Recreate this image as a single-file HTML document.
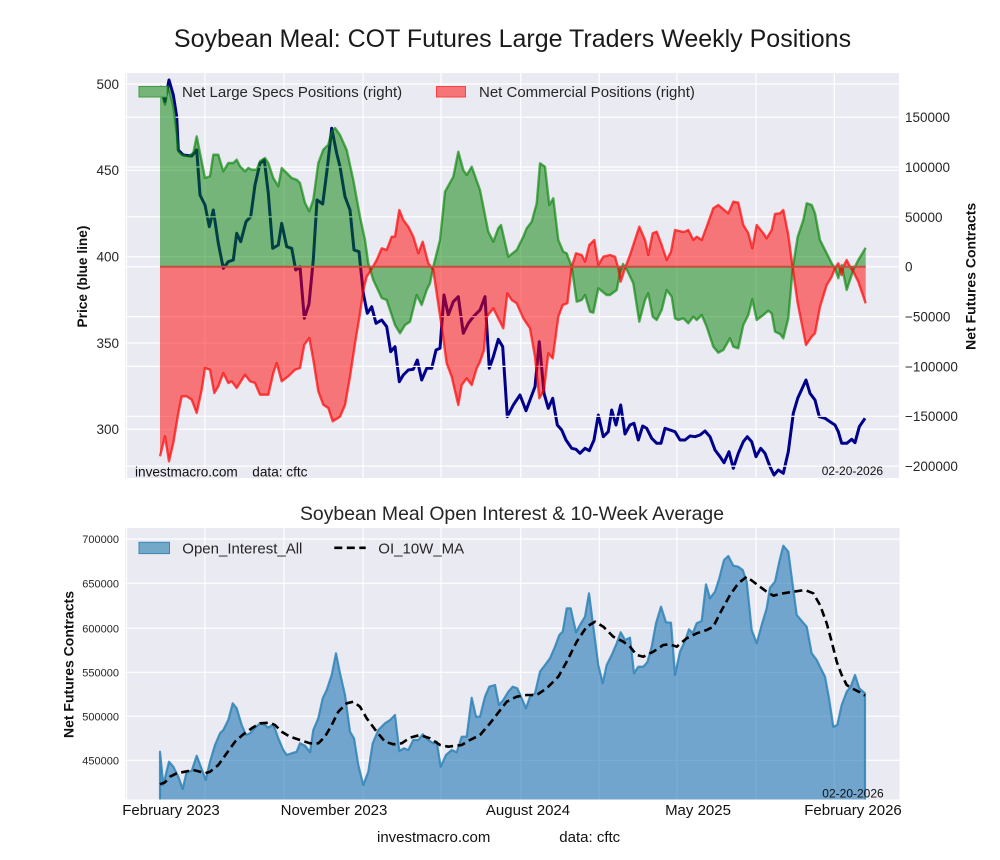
<!DOCTYPE html>
<html><head><meta charset="utf-8"><style>
html,body{margin:0;padding:0;background:#fff;}
svg{display:block;font-family:"Liberation Sans",Arial,sans-serif;}
</style></head><body>
<svg width="1000" height="860" viewBox="0 0 1000 860" xmlns="http://www.w3.org/2000/svg">
<defs>
<clipPath id="ct"><rect x="125" y="73" width="774" height="405"/></clipPath>
<clipPath id="cb"><rect x="125" y="528" width="774.5" height="271.5"/></clipPath>
</defs>
<rect width="1000" height="860" fill="#fff"/>
<text x="512.5" y="47" font-size="25" text-anchor="middle" fill="#1a1a1a">Soybean Meal: COT Futures Large Traders Weekly Positions</text>

<!-- TOP PANEL -->
<rect x="125" y="73" width="774" height="405" fill="#eaeaf2"/>
<g stroke="#fff" stroke-width="1.2">
<path d="M126.5,73V478M205,73V478M284,73V478M363,73V478M441,73V478M520.7,73V478M599.3,73V478M677,73V478M756,73V478M834.3,73V478"/>
<path d="M125,84H899M125,170.3H899M125,256.7H899M125,343H899M125,429.3H899"/>
</g>
<g clip-path="url(#ct)">
<polyline fill="none" stroke="#00008b" stroke-width="3" stroke-linejoin="round" points="160,86 165,101.7 169,80 173.3,95 176.7,116.7 178.3,150 183.3,155 191.7,156 196.7,150 200,195 205,205 209.3,226.7 213.3,210 218.3,243.3 223.3,268.3 228.3,261.7 233.3,260 236.7,233.3 240.7,241.7 246,221.7 250.7,216.7 255,185 260,163.3 264.3,160 268.3,193.3 272.7,248.3 278.3,245 281.7,223.3 286.7,246.7 291.7,248.3 295.7,270 300,266.7 304.3,318.3 309,304 313.3,259.7 317,200 322.7,204 327.3,168 331.7,128.3 336.7,153.3 340,166.7 345,196.7 350,210 354,250 359,251.7 363.3,293.3 367.3,313.3 371.7,306.7 376,323.3 381.7,320 386.7,326.7 390.7,351.7 395,346.7 399.3,381.7 403.3,375 408.3,370 413.3,369.3 417.3,360 421.7,380 426.7,368.3 431.7,368.3 436,350 440,348.3 444,295 448.3,315 453.3,301.7 458.3,296.7 463.3,333.3 468.3,323.3 473.3,316.7 480,310 485,296.7 489.3,368.3 493.3,356.7 498.3,339.3 502.7,346.7 507.3,416.7 513.3,405 520,395 526,410.7 530,400 535,386.7 539.3,341.7 544,393.3 548.3,408.3 552.7,398.3 557.3,425 561.7,430 566,440 571.7,448.3 576,449.3 580,453.3 585,448.3 589.3,450.7 594,440 598.3,415 603.3,436.7 608.3,431.7 611.7,410 616,425 620.7,405 625,434 630,425 634,423.3 638.3,440 642.7,426 646.7,428.3 651.7,438.3 656.7,443.3 661,443.3 665,428.3 670,430 675,431.7 680,440 685,440 690,436 695,436.7 700,435 705,431 710,436.7 715,450 720,456.7 724,462.7 729,451.7 733.3,468.3 738.3,453.3 743.3,441.7 747.3,436.7 751.7,441.7 756,456.7 760.7,448.3 765,453.3 770,466.7 774,475 778.3,470 783.3,473.3 788.3,451.7 793.3,413.3 797.7,398.3 806,380 810,393.3 815,400 819.3,416.7 825,418.3 830,421.7 835,425 838.3,431.7 841.7,443.3 846.7,443.3 851.7,439.3 855,442.7 859.3,426.7 865,418.3"/>
</g>
<g stroke="#fff" stroke-width="1.2">
<path d="M125,117.2H899M125,167H899M125,216.9H899M125,266.7H899M125,316.6H899M125,366.4H899M125,416.3H899M125,466.1H899"/>
</g>
<g clip-path="url(#ct)">
<polygon fill="#008000" fill-opacity="0.5" points="160,266.7 160,86.3 165,104.7 168.3,86.3 173.3,106.3 176.7,133 178.3,151.3 181.7,154.7 188.3,156.3 193.3,153 196.7,136.3 200,153 205,178 210,176.3 213.3,154.7 218.3,154.7 223.3,171.3 228.3,163 233.3,163 236.7,159.7 240,166.3 245,171.3 248.3,168 251.7,169.7 256.7,169.7 260,161.3 265,158 268.3,163 273.3,178 278.3,186.3 281.7,168 286.7,173 291.7,178 296.7,179.7 300,183 305,203 309.3,211.3 313.3,199.7 318.3,163 323.3,149.7 328.3,144.7 331.7,131.3 335,128 340,135 346.7,150 353.3,180 360,216.7 365,240 368.3,263.3 373.3,280 381.7,298 386.7,300 390,310 395,325 400,333.3 405,325 410,321.7 416.7,295 421.7,305 426.7,290 430,283.3 433.3,266.7 440,240 445,191.7 453.3,176.7 458.3,151.7 463.3,170 466.7,175 471.7,166.7 480,190 488.3,231.7 493.3,241.7 498.3,228.3 501,225 508.3,256.7 516.7,250 523.3,236.7 526.7,228.3 531.7,221.7 536.7,203.3 540,163.3 545,166.7 549.3,205 553.3,198.3 558.3,240 563.3,251.7 566.7,253.3 571.7,266.7 576.7,301.7 581.7,300 585,295 590,311.7 593.3,312.7 598.3,288.3 606.7,295 610,295 616.7,290 620,273.3 623,264 627,270 633.3,283.3 639.3,321.7 645,300 648.3,293.3 652.7,316.7 656.7,320 661.7,310 666.7,290 671.7,296.7 675,318.3 678.3,320 683.3,318.3 688.3,323.3 693.3,316.7 696.7,320 701.7,315 706.7,326.7 713.3,346.7 718.3,352.7 723.3,350 730,338.3 733.3,346.7 738.3,348.3 743.3,325 748.3,315 752.3,299.3 756.7,320 763.3,315 768.3,310.7 771.7,313.3 775,331.7 780,334 783.3,338.3 788.3,318.3 792.7,268.3 797.7,236.7 803.3,220 806.7,203.3 811.7,205 815,213.3 820,240 826.7,253.3 831.7,263.3 835,268.3 838.3,278.3 841.7,265 843.3,273.3 846.7,290 850,280 853.3,270 858.3,260 865.7,247.7 865.7,266.7"/>
<polygon fill="#ff0000" fill-opacity="0.5" points="160,266.7 160,456.3 165,436.3 169,461.3 173.3,443 178.3,413 181.7,396.3 186.7,396.3 191.7,399.7 196.7,413 201.7,389.7 205,368 210,369.7 214.3,393 218.3,386.3 223.3,373 228.3,383 231.7,381.3 236.7,388 245,374.7 250,381.3 255,383 260,394.7 268.3,394.7 273.3,373 276.7,363 281.7,381.3 288.3,376.3 295,369.7 300,368 304.3,344.7 309.3,338 313.3,359.7 318.3,391.3 323.3,404.7 328.3,408 332.7,421.3 340,416.7 345,405 350,376.7 355,343.3 360,313.3 363.3,290 366.7,276.7 370,271.7 376.7,260 381.7,248.3 386.7,250 391.7,236.7 395,236.7 399.3,210 403.3,220 408.3,226.7 413.3,236.7 418.3,253.3 422.7,241.7 428.3,263.3 433.3,270 436.7,293.3 441.7,326.7 446.7,363.3 451.7,376.7 458.3,405 461.7,385 466.7,378.3 471.7,385 476.7,368.3 480,361.7 484,350 486.7,316.7 493.3,308.3 503.3,328.3 507.3,293.3 511.7,300 516.7,303.3 523.3,318.3 530,328.3 535,356.7 539.3,398.3 544,390 548.3,353.3 552.7,358.3 558.3,316.7 562.7,305 567.3,303.3 571.7,266.7 576,253.3 581.7,255 585,261.7 589.3,245 594.3,240 598.3,265 603.3,256.7 610,255 615,256.7 618.3,268.3 620.7,281.7 625,268.3 630,255 639.3,226.7 645,240 648.3,255 652.7,233.3 656.7,231.7 661.7,245 666.7,260 671,251.7 675,230 681.7,231.7 685,231.7 688.3,230 693.3,240 696.7,236.7 701.7,240 706.7,226.7 713.3,208.3 718.3,205 723.3,209.3 728.3,213.3 733.3,201.7 738.3,202.7 743.3,225 748.3,233.3 752.3,248.3 756.7,225 763.3,233.3 766.7,238.3 771.7,230 775,214 780,213.3 783.3,210 788.3,235 792.7,268.3 797.7,303.3 801.7,323.3 806,345 811.7,336.7 815,333.3 820,306.7 826.7,285 831.7,276.7 835,268.3 838.3,263.3 841.7,275 843.3,266.7 846.7,260 850,266.7 853.3,271.7 858.3,281.7 865.7,303.3 865.7,266.7"/>
<polyline fill="none" stroke="#008000" stroke-opacity="0.62" stroke-width="2.4" stroke-linejoin="round" points="160,86.3 165,104.7 168.3,86.3 173.3,106.3 176.7,133 178.3,151.3 181.7,154.7 188.3,156.3 193.3,153 196.7,136.3 200,153 205,178 210,176.3 213.3,154.7 218.3,154.7 223.3,171.3 228.3,163 233.3,163 236.7,159.7 240,166.3 245,171.3 248.3,168 251.7,169.7 256.7,169.7 260,161.3 265,158 268.3,163 273.3,178 278.3,186.3 281.7,168 286.7,173 291.7,178 296.7,179.7 300,183 305,203 309.3,211.3 313.3,199.7 318.3,163 323.3,149.7 328.3,144.7 331.7,131.3 335,128 340,135 346.7,150 353.3,180 360,216.7 365,240 368.3,263.3 373.3,280 381.7,298 386.7,300 390,310 395,325 400,333.3 405,325 410,321.7 416.7,295 421.7,305 426.7,290 430,283.3 433.3,266.7 440,240 445,191.7 453.3,176.7 458.3,151.7 463.3,170 466.7,175 471.7,166.7 480,190 488.3,231.7 493.3,241.7 498.3,228.3 501,225 508.3,256.7 516.7,250 523.3,236.7 526.7,228.3 531.7,221.7 536.7,203.3 540,163.3 545,166.7 549.3,205 553.3,198.3 558.3,240 563.3,251.7 566.7,253.3 571.7,266.7 576.7,301.7 581.7,300 585,295 590,311.7 593.3,312.7 598.3,288.3 606.7,295 610,295 616.7,290 620,273.3 623,264 627,270 633.3,283.3 639.3,321.7 645,300 648.3,293.3 652.7,316.7 656.7,320 661.7,310 666.7,290 671.7,296.7 675,318.3 678.3,320 683.3,318.3 688.3,323.3 693.3,316.7 696.7,320 701.7,315 706.7,326.7 713.3,346.7 718.3,352.7 723.3,350 730,338.3 733.3,346.7 738.3,348.3 743.3,325 748.3,315 752.3,299.3 756.7,320 763.3,315 768.3,310.7 771.7,313.3 775,331.7 780,334 783.3,338.3 788.3,318.3 792.7,268.3 797.7,236.7 803.3,220 806.7,203.3 811.7,205 815,213.3 820,240 826.7,253.3 831.7,263.3 835,268.3 838.3,278.3 841.7,265 843.3,273.3 846.7,290 850,280 853.3,270 858.3,260 865.7,247.7"/>
<polyline fill="none" stroke="#ff0000" stroke-opacity="0.68" stroke-width="2.4" stroke-linejoin="round" points="160,456.3 165,436.3 169,461.3 173.3,443 178.3,413 181.7,396.3 186.7,396.3 191.7,399.7 196.7,413 201.7,389.7 205,368 210,369.7 214.3,393 218.3,386.3 223.3,373 228.3,383 231.7,381.3 236.7,388 245,374.7 250,381.3 255,383 260,394.7 268.3,394.7 273.3,373 276.7,363 281.7,381.3 288.3,376.3 295,369.7 300,368 304.3,344.7 309.3,338 313.3,359.7 318.3,391.3 323.3,404.7 328.3,408 332.7,421.3 340,416.7 345,405 350,376.7 355,343.3 360,313.3 363.3,290 366.7,276.7 370,271.7 376.7,260 381.7,248.3 386.7,250 391.7,236.7 395,236.7 399.3,210 403.3,220 408.3,226.7 413.3,236.7 418.3,253.3 422.7,241.7 428.3,263.3 433.3,270 436.7,293.3 441.7,326.7 446.7,363.3 451.7,376.7 458.3,405 461.7,385 466.7,378.3 471.7,385 476.7,368.3 480,361.7 484,350 486.7,316.7 493.3,308.3 503.3,328.3 507.3,293.3 511.7,300 516.7,303.3 523.3,318.3 530,328.3 535,356.7 539.3,398.3 544,390 548.3,353.3 552.7,358.3 558.3,316.7 562.7,305 567.3,303.3 571.7,266.7 576,253.3 581.7,255 585,261.7 589.3,245 594.3,240 598.3,265 603.3,256.7 610,255 615,256.7 618.3,268.3 620.7,281.7 625,268.3 630,255 639.3,226.7 645,240 648.3,255 652.7,233.3 656.7,231.7 661.7,245 666.7,260 671,251.7 675,230 681.7,231.7 685,231.7 688.3,230 693.3,240 696.7,236.7 701.7,240 706.7,226.7 713.3,208.3 718.3,205 723.3,209.3 728.3,213.3 733.3,201.7 738.3,202.7 743.3,225 748.3,233.3 752.3,248.3 756.7,225 763.3,233.3 766.7,238.3 771.7,230 775,214 780,213.3 783.3,210 788.3,235 792.7,268.3 797.7,303.3 801.7,323.3 806,345 811.7,336.7 815,333.3 820,306.7 826.7,285 831.7,276.7 835,268.3 838.3,263.3 841.7,275 843.3,266.7 846.7,260 850,266.7 853.3,271.7 858.3,281.7 865.7,303.3"/>
<line x1="160" y1="266.7" x2="865.7" y2="266.7" stroke="#c4503e" stroke-width="2"/>
</g>
<!-- top legend -->
<rect x="139" y="86.5" width="28" height="10.5" fill="#75b579" stroke="#3d9a40" stroke-width="1"/>
<text x="182" y="97" font-size="15" fill="#262626">Net Large Specs Positions (right)</text>
<rect x="436.5" y="86.5" width="29" height="10.5" fill="#f57579" stroke="#ff4040" stroke-width="1"/>
<text x="479" y="97" font-size="15" fill="#262626">Net Commercial Positions (right)</text>
<text x="135" y="476.5" font-size="13.6" fill="#111">investmacro.com</text>
<text x="252.3" y="476.5" font-size="13.6" fill="#111">data: cftc</text>
<text x="821.7" y="475" font-size="12" fill="#111">02-20-2026</text>
<!-- top ticks -->
<g font-size="13.5" fill="#262626" text-anchor="end">
<text x="119" y="88.9">500</text>
<text x="119" y="175.2">450</text>
<text x="119" y="261.6">400</text>
<text x="119" y="347.9">350</text>
<text x="119" y="434.2">300</text>
</g>
<g font-size="13.5" fill="#262626">
<text x="905" y="122.1">150000</text>
<text x="905" y="171.9">100000</text>
<text x="905" y="221.8">50000</text>
<text x="905" y="271.6">0</text>
<text x="905" y="321.5">−50000</text>
<text x="905" y="371.3">−100000</text>
<text x="905" y="421.2">−150000</text>
<text x="905" y="471">−200000</text>
</g>
<text transform="translate(87,276.5) rotate(-90)" font-size="13.7" font-weight="bold" text-anchor="middle" fill="#111">Price (blue line)</text>
<text transform="translate(975.5,276.3) rotate(-90)" font-size="14" font-weight="bold" text-anchor="middle" fill="#111">Net Futures Contracts</text>

<!-- BOTTOM PANEL -->
<text x="512" y="520" font-size="19.4" text-anchor="middle" fill="#262626">Soybean Meal Open Interest &amp; 10-Week Average</text>
<rect x="125" y="528" width="774.5" height="271.5" fill="#eaeaf2"/>
<g stroke="#fff" stroke-width="1.2">
<path d="M126.5,528V799.5M205,528V799.5M284,528V799.5M363,528V799.5M441,528V799.5M520.7,528V799.5M599.3,528V799.5M677,528V799.5M756,528V799.5M834.3,528V799.5"/>
<path d="M125,539H899.5M125,583.3H899.5M125,628.3H899.5M125,672.3H899.5M125,716.3H899.5M125,760.3H899.5"/>
</g>
<g clip-path="url(#cb)">
<polygon fill="#1f77b4" fill-opacity="0.6" stroke="#2f82b6" stroke-opacity="0.85" stroke-width="2.2" stroke-linejoin="round" points="160,805 160,751.7 163.3,785 169,761.7 173.3,766.7 178.3,776.7 182.7,789 186.7,771.7 191.7,771 196.7,755.7 201.7,769 205.7,780 210,761.7 215,745 220,733.3 223.3,730 228.3,720 232.7,703.3 236.7,708.3 241.7,725 246,735 250,733.3 255,727.7 260,723.3 265,725 268.3,727.7 273.3,724.3 278.3,738.3 283.3,750 286.7,755 291.7,753.3 296.7,751.7 300,743.3 305,745.7 310,752.3 313.3,730 318.3,718.3 322.7,698.3 326.7,690 331.7,675 336,653.3 340,673.3 345,695 350,731.7 354,738.3 358.3,765 363.3,785 368.3,771.7 372.7,743.3 378.3,730 385,723.3 390,720 395,715 399.3,751 404,748.3 408.3,750 413.3,740 418.3,740 422.7,734.3 428.3,740 433.3,743.3 436.7,741.7 440.7,766.7 446,755 451.7,750 456.7,752.3 461.7,736.7 466.7,736.7 471.7,697.7 476,716.7 480,716.7 485,696.7 489.3,686.7 495,685 499,705 503.3,700 508.3,691.7 512.7,686.7 517.3,688.3 521.7,698.3 526,708.3 530,696.7 535,693.3 540,671.7 545,665 550,658.3 555,646.7 559.3,635 562.7,631.7 566.7,608.3 570.7,608.3 576,632.3 580,625 585,616.7 589,593.3 593.3,626.7 598.3,665 602.7,683.3 606.7,665 611.7,655 616.7,643.3 620.7,632.3 625,640 630,637.7 634,673.3 638.3,666.7 643.3,666.7 647.3,662.3 651.7,646.7 656,623.3 661,606.7 666,622.3 671,622.7 675,675 680,651.7 685,641 689,629.3 692.7,633.3 696.7,623.3 701.7,621 706,584.3 710,598.3 715,591.7 719.3,578.3 724,560 728.3,556 733.3,565.7 738.3,566.7 742.7,570 746.7,581.7 751.7,630 756.7,643.3 761.7,625 766.7,608.3 770,587.7 775,581.7 779.3,561.7 783.3,545.7 788.3,551.7 792.7,585 796.7,615 801.7,621 806.7,626.7 811.7,653.3 816.7,660 820.7,668.3 825,676.7 829,698.3 833.3,726.7 837.3,725 841.7,705 846.7,691.7 850.7,686.7 855,675 859.3,688.3 865,693.3 865,805"/>
<polyline fill="none" stroke="#000" stroke-width="2.6" stroke-dasharray="8,4.5" stroke-linejoin="round" points="160,784.3 165,782.3 170,776.7 176.7,773.3 185,771.7 193.3,770 200,771.7 205,773.3 210,771.7 218.3,765 226.7,753.3 235,741.7 243.3,734.3 251.7,728.3 260,723.3 270,722.7 275,725 281.7,731.7 290,736.7 300,740 310,743.3 318.3,743.3 325,736.7 331.7,725 338.3,711.7 346.7,703.3 353.3,701.7 360,706.7 366.7,718.3 376.7,731.7 385,741.7 393.3,744.3 401.7,743.3 410,737.7 420,735 430,738.3 440,745 448.3,746.7 461.7,745 470,740 480,735 490,723.3 499,711.7 506.7,701.7 516.7,696.7 526.7,695 536.7,695 546.7,688.3 558.3,676.7 566.7,661.7 576.7,641.7 586.7,626.7 595,621.7 603.3,626.7 613.3,636.7 623.3,641.7 630,646.7 636.7,655 643.3,656.7 653.3,651.7 663.3,645 670,644.3 676.7,646.7 686.7,638.3 696.7,633.3 706.7,630 713.3,626.7 720,613.3 730,595 738.3,583.3 746.7,576.7 756.7,584.3 766.7,591.7 773.3,595.7 783.3,593.3 793.3,591.7 805,590 813.3,593.3 820,605 826.7,623.3 831.7,641.7 836.7,661.7 841.7,675 846.7,685 853.3,689 860,692.3 865,695.7"/>
</g>
<!-- bottom legend -->
<rect x="139" y="542.3" width="30.5" height="11.3" fill="#74a8c8" stroke="#3a88b4" stroke-width="1"/>
<text x="182.3" y="553.3" font-size="15" fill="#262626">Open_Interest_All</text>
<line x1="334.3" y1="547.8" x2="365.7" y2="547.8" stroke="#000" stroke-width="2.6" stroke-dasharray="8,4.5"/>
<text x="378.3" y="553.3" font-size="15" fill="#262626">OI_10W_MA</text>
<text x="822.3" y="797.7" font-size="12" fill="#111">02-20-2026</text>
<g font-size="11" fill="#262626" text-anchor="end">
<text x="119" y="543">700000</text>
<text x="119" y="587.3">650000</text>
<text x="119" y="632.3">600000</text>
<text x="119" y="676.3">550000</text>
<text x="119" y="720.3">500000</text>
<text x="119" y="764.3">450000</text>
</g>
<text transform="translate(73.5,664.5) rotate(-90)" font-size="14" font-weight="bold" text-anchor="middle" fill="#111">Net Futures Contracts</text>
<g font-size="15" fill="#111" text-anchor="middle">
<text x="171" y="815">February 2023</text>
<text x="334" y="815">November 2023</text>
<text x="528" y="815">August 2024</text>
<text x="698" y="815">May 2025</text>
<text x="853" y="815">February 2026</text>
</g>
<text x="377" y="842" font-size="15" fill="#111">investmacro.com</text>
<text x="559.3" y="842" font-size="15" fill="#111">data: cftc</text>
</svg>
</body></html>
